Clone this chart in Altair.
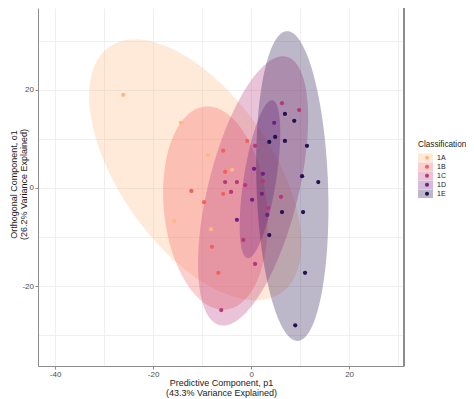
import altair as alt
import numpy as np
import pandas as pd

# ---- data ----
classes = ["1A", "1B", "1C", "1D", "1E"]
colors = ["#FEB77E", "#F1605D", "#B73779", "#6F1F81", "#231151"]

pts_class = (["1A"] * 6 + ["1B"] * 8 + ["1C"] * 13 + ["1D"] * 7 + ["1E"] * 13)
pts_x = [-26.1, -14.3, -8.8, -3.9, -15.7, -8.2,
         -0.8, -5.7, -5.3, -12.2, -9.6, -5.7, -8.0, -6.7,
         6.3, 9.8, 0.8, 2.4, 6.1, 3.5, -5.3, -2.9, -4.1, -1.2, -1.6, 0.8, -6.1,
         4.7, 0.6, 2.4, 2.2, 0.2, 3.3, -2.9,
         6.9, 8.8, 4.9, 3.7, 6.9, 11.4, 10.4, 13.7, 6.3, 10.6, 3.7, 11.0, 9.0]
pts_y = [19.0, 13.3, 6.7, 3.7, -6.7, -8.4,
         9.6, 7.6, 3.3, -0.6, -2.9, -1.2, -12.0, -17.3,
         17.3, 15.9, 8.6, 1.4, -1.8, -4.1, 1.2, 1.2, -0.8, 0.6, -10.6, -15.5, -24.9,
         13.3, 3.9, 2.9, -1.2, -2.4, -5.5, -6.5,
         15.1, 13.7, 10.4, 9.4, 9.6, 8.6, 2.4, 1.2, -4.9, -4.9, -9.6, -17.3, -28.0]

# confidence ellipses: centre, semi-axes, angle of major axis (degrees)
ell_cx = [-11.4, -7.3, 0.4, 1.8, 8.4]
ell_cy = [3.7, -4.1, -0.6, 1.8, 0.4]
ell_a = [30.6, 20.8, 28.2, 16.3, 31.6]
ell_b = [15.5, 10.5, 9.2, 3.3, 7.3]
ell_angle = [125, 96, 76, 81, 92]

grid_vals = [-40, -30, -20, -10, 0, 10, 20, 30]

# ---- build tables ----
pts_df = pd.DataFrame({"Classification": pts_class, "x": pts_x, "y": pts_y})

rows = []
for cls, cx, cy, a, b, ang in zip(classes, ell_cx, ell_cy, ell_a, ell_b, ell_angle):
    t = np.deg2rad(ang)
    c, s = np.cos(t), np.sin(t)
    W = np.sqrt(a * a * c * c + b * b * s * s)
    dx = W * np.cos(np.linspace(np.pi, 0, 241))
    A = s * s / a ** 2 + c * c / b ** 2
    B = 2 * dx * (c * s / a ** 2 - c * s / b ** 2)
    C = dx ** 2 * (c * c / a ** 2 + s * s / b ** 2) - 1
    disc = np.sqrt(np.clip(B * B - 4 * A * C, 0, None))
    lo = (-B - disc) / (2 * A)
    hi = (-B + disc) / (2 * A)
    for d, l, h in zip(dx, lo, hi):
        rows.append({"cls": cls, "x": cx + d, "ylo": cy + l, "yhi": cy + h})
ell_df = pd.DataFrame(rows)

# ---- chart ----
PW, PH = 366, 358
FONT = "Liberation Sans"
xscale = alt.Scale(domain=[-43.5, 31.2], nice=False, zero=False)
yscale = alt.Scale(domain=[-36.3, 36.7], nice=False, zero=False)

major = {"condition": {"test": "datum.value % 20 === 0", "value": 1}, "value": 0}
lab_expr = "datum.value % 20 === 0 ? '' + datum.value : ''"

xaxis = alt.Axis(values=grid_vals, labelExpr=lab_expr, tickOpacity=major,
                 title=["Predictive Component, p1", "(43.3% Variance Explained)"],
                 titleX=PW / 2, titleY=12, titleBaseline="top", titleAlign="center",
                 titleLineHeight=10)
yaxis = alt.Axis(values=grid_vals, labelExpr=lab_expr, tickOpacity=major,
                 title=["Orthogonal Component, o1", "(26.2% Variance Explained)"],
                 titleX=-29, titleY=176, titleBaseline="top", titleAlign="center",
                 titleAngle=270, titleLineHeight=10.5)

leg_common = dict(orient="none", legendY=133, clipHeight=9, rowPadding=0,
                  padding=0, titleFontSize=8.2, titleFontWeight="normal",
                  titleFont=FONT, labelFont=FONT, labelFontSize=7,
                  titlePadding=4, titleColor="#1a1a1a", labelColor="#1a1a1a")

# swatch legend (explicit domain) and dot legend (data domain) stay separate
ellipses = alt.Chart(ell_df).mark_area(orient="vertical", fillOpacity=0.3, clip=True).encode(
    x=alt.X("x:Q", scale=xscale, axis=xaxis),
    y=alt.Y("ylo:Q", scale=yscale, axis=yaxis),
    y2="yhi:Q",
    fill=alt.Fill("cls:N", scale=alt.Scale(domain=classes, range=colors),
                  legend=alt.Legend(title="Classification", legendX=380,
                                    symbolType="M-1,-0.6L1,-0.6L1,0.6L-1,0.6Z",
                                    symbolSize=225, symbolOpacity=0.3,
                                    symbolStrokeWidth=0, labelOffset=4,
                                    **leg_common)),
)

points = alt.Chart(pts_df).mark_circle(size=18, opacity=1, clip=True).encode(
    x=alt.X("x:Q", scale=xscale),
    y=alt.Y("y:Q", scale=yscale),
    color=alt.Color("Classification:N", scale=alt.Scale(range=colors),
                    legend=alt.Legend(title=" ", legendX=385.5,
                                      symbolType="circle", symbolSize=16,
                                      symbolOpacity=1, symbolStrokeWidth=0,
                                      labelExpr="''", labelOffset=4,
                                      **leg_common)),
)

border = alt.Chart(pts_df).mark_rule(color="#8c8c8c", strokeWidth=1).encode(
    x=alt.value(PW), y=alt.value(0), y2=alt.value(PH))

chart = alt.layer(ellipses, points, border).properties(
    width=PW, height=PH,
    autosize=alt.AutoSizeParams(type="none"),
    padding={"left": 30, "top": 0, "right": 62, "bottom": 33},
).configure_view(stroke=None).configure_axis(
    grid=True, gridColor="#EBEBEB", gridWidth=0.8,
    domainColor="#8c8c8c", domainWidth=1,
    tickColor="#8c8c8c", tickSize=3, tickWidth=1,
    labelFont=FONT, labelFontSize=8, labelColor="#4D4D4D", labelPadding=1.5,
    titleFont=FONT, titleFontSize=9, titleFontWeight="normal", titleColor="#1a1a1a",
)

chart.save("out.html", embed_options={"renderer": "svg", "actions": False})
